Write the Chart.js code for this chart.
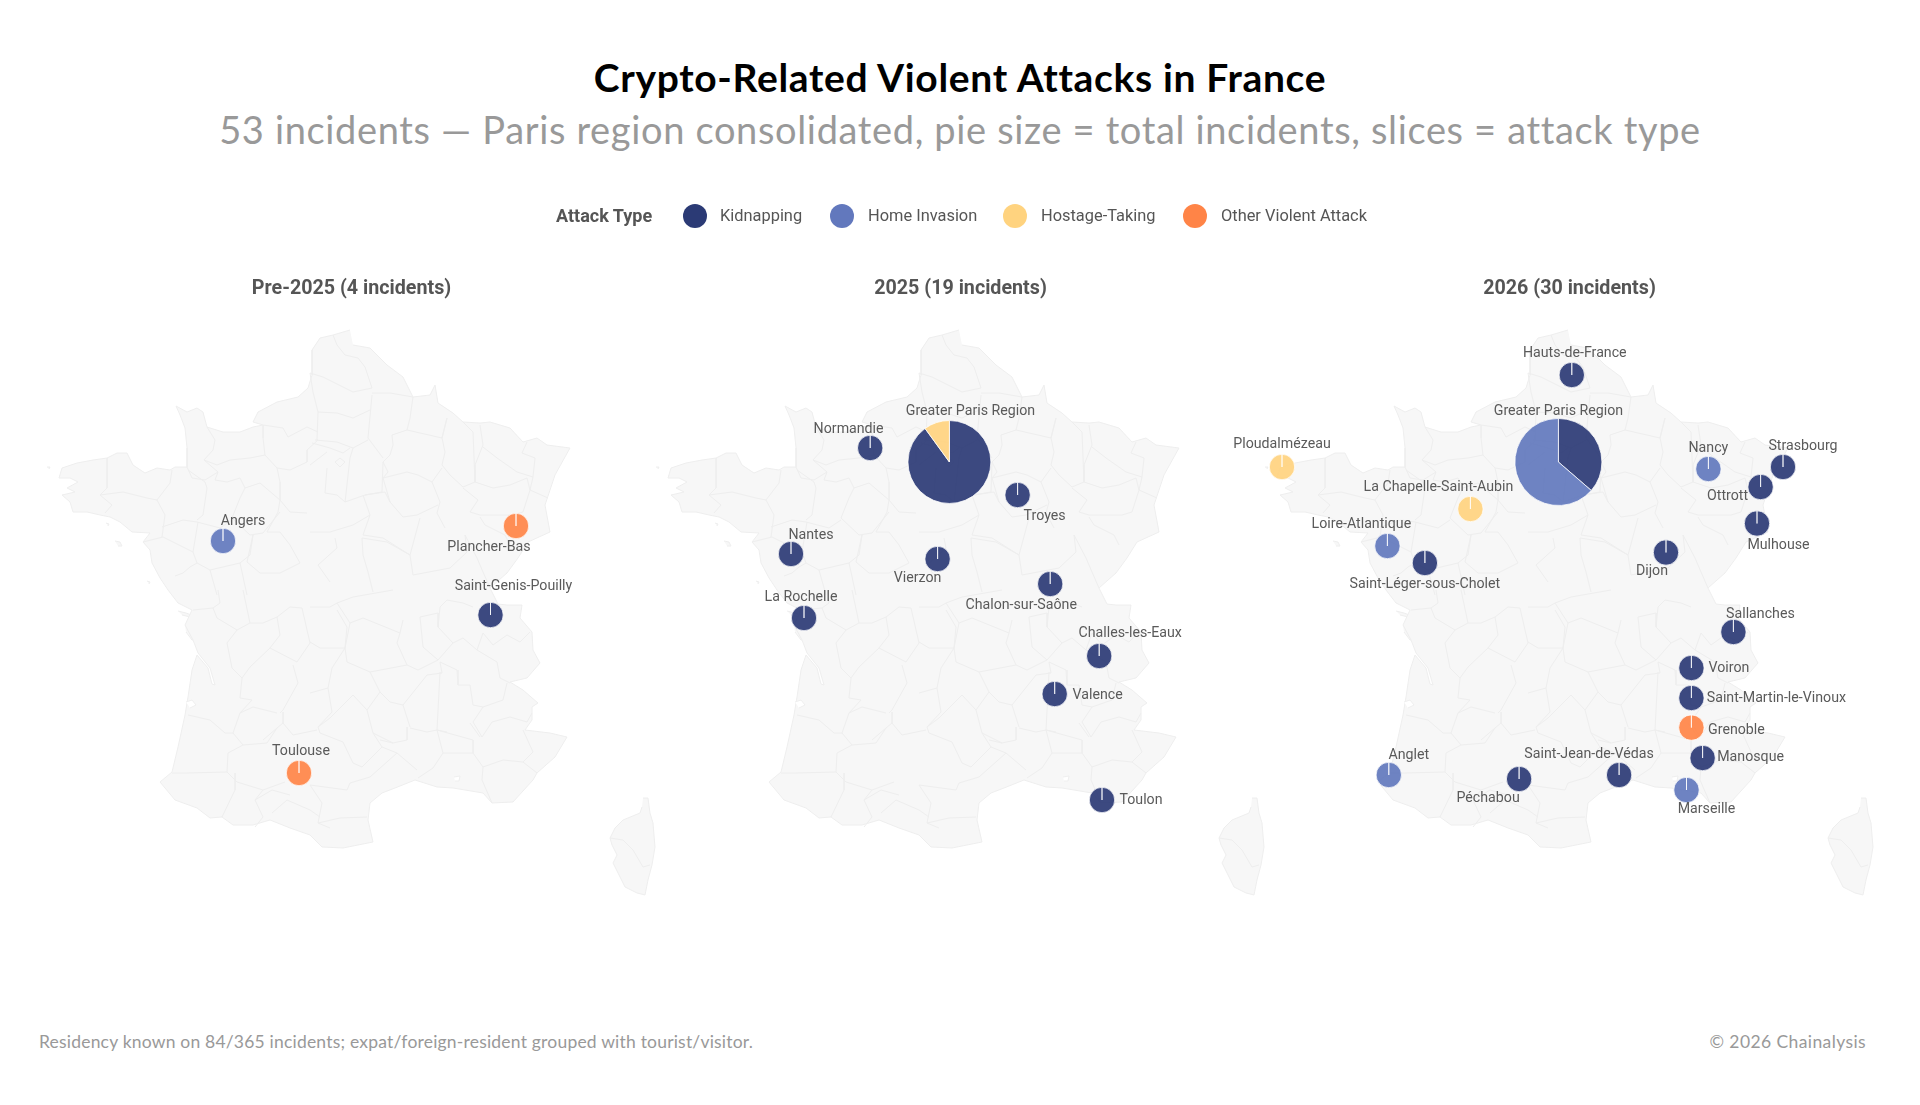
<!DOCTYPE html>
<html>
<head>
<meta charset="utf-8">
<title>Crypto-Related Violent Attacks in France</title>
<script src="https://cdn.jsdelivr.net/npm/chart.js@4"></script>
<style>
  html, body { margin: 0; padding: 0; background: #fff; }
  body { position: relative; width: 1920px; height: 1105px; overflow: hidden; font-family: Lato, sans-serif; }
  .abs { position: absolute; white-space: nowrap; }
  #title { left: 0; width: 1920px; top: 53px; text-align: center; font-size: 39px; line-height: 48px; font-weight: 700; color: #000; letter-spacing: 0.67px; }
  #subtitle { left: 0; width: 1920px; top: 105px; text-align: center; font-size: 38px; line-height: 48px; color: #999; letter-spacing: 0.65px; }
  .leg { top: 205px; font: 16.4px/22px Roboto, sans-serif; color: #555; filter: blur(0.4px); }
  .leg.head { font-weight: 700; font-size: 18px; }
  .dot { top: 204px; width: 24px; height: 24px; border-radius: 50%; filter: blur(0.4px); }
  canvas { position: absolute; top: 275px; filter: blur(0.4px); }
  #foot, #copy { top: 1031px; font-size: 17.5px; line-height: 22px; color: #999; letter-spacing: 0.2px; }
  #foot { left: 39px; }
  #copy { right: 54px; letter-spacing: 0.4px; }
</style>
</head>
<body>
<div class="abs" id="title">Crypto-Related Violent Attacks in France</div>
<div class="abs" id="subtitle">53 incidents — Paris region consolidated, pie size = total incidents, slices = attack type</div>

<div class="abs leg head" style="left:556px">Attack Type</div>
<div class="abs dot" style="left:683px;background:#2b3a75"></div>
<div class="abs leg" style="left:720px">Kidnapping</div>
<div class="abs dot" style="left:830px;background:#6278bd"></div>
<div class="abs leg" style="left:868px">Home Invasion</div>
<div class="abs dot" style="left:1003px;background:#ffd37f"></div>
<div class="abs leg" style="left:1041px">Hostage-Taking</div>
<div class="abs dot" style="left:1183px;background:#ff8447"></div>
<div class="abs leg" style="left:1221px">Other Violent Attack</div>

<canvas id="panel0" width="729" height="645" style="left:-13px;width:729px;height:645px"></canvas>
<canvas id="panel1" width="729" height="645" style="left:596px;width:729px;height:645px"></canvas>
<canvas id="panel2" width="729" height="645" style="left:1205px;width:729px;height:645px"></canvas>

<div class="abs" id="foot">Residency known on 84/365 incidents; expat/foreign-resident grouped with tourist/visitor.</div>
<div class="abs" id="copy">© 2026 Chainalysis</div>

<script>
const attackTypes = ["Kidnapping", "Home Invasion", "Hostage-Taking", "Other Violent Attack"];
const attackColors = ["#2b3a75", "#6278bd", "#ffd37f", "#ff8447"];

// slices are [kidnapping, home invasion, hostage-taking, other]
const preNames = ["Angers", "Plancher-Bas", "Saint-Genis-Pouilly", "Toulouse"];
const preX = [223, 516, 490.5, 299];
const preY = [541, 526, 615, 773];
const preSlices = [[0,1,0,0], [0,0,0,1], [1,0,0,0], [0,0,0,1]];
const preLabelOffset = [[20,-19.5], [-27,21.5], [23,-28.5], [2,-21.5]];

const y25Names = ["Greater Paris Region", "Normandie", "Troyes", "Nantes", "Vierzon", "La Rochelle", "Chalon-sur-Saône", "Challes-les-Eaux", "Valence", "Toulon"];
const y25X = [340.4, 261.2, 408.6, 182, 328.6, 195, 441.2, 490.2, 445.7, 493];
const y25Y = [462, 448, 495, 554, 559, 618, 584, 656, 694, 800];
const y25Slices = [[9,0,1,0], [1,0,0,0], [1,0,0,0], [1,0,0,0], [1,0,0,0], [1,0,0,0], [1,0,0,0], [1,0,0,0], [1,0,0,0], [1,0,0,0]];
const y25LabelOffset = [[21,-50.5], [-21.6,-18.5], [27,21.5], [20,-18.5], [-20,19.5], [-3,-20.5], [-29,21.5], [31,-22.5], [43,1.5], [39,0.5]];

const y26Names = ["Hauts-de-France", "Greater Paris Region", "Ploudalmézeau", "La Chapelle-Saint-Aubin", "Loire-Atlantique", "Saint-Léger-sous-Cholet", "Nancy", "Strasbourg", "Ottrott", "Mulhouse", "Dijon", "Sallanches", "Voiron", "Saint-Martin-le-Vinoux", "Grenoble", "Manosque", "Marseille", "Anglet", "Péchabou", "Saint-Jean-de-Védas"];
const y26X = [353.8, 340.4, 64, 252.4, 169.4, 206.9, 490.4, 565, 542.6, 539, 448, 515.4, 473.4, 473.4, 473.4, 484.6, 468.5, 170.8, 301.1, 401.1];
const y26Y = [375, 462, 467, 509, 546, 563, 469, 467, 487, 523.5, 552.5, 632, 668, 698, 727.6, 758, 790, 775, 779, 775];
const y26Slices = [[1,0,0,0], [4,7,0,0], [0,0,1,0], [0,0,1,0], [0,1,0,0], [1,0,0,0], [0,1,0,0], [1,0,0,0], [1,0,0,0], [1,0,0,0], [1,0,0,0], [1,0,0,0], [1,0,0,0], [1,0,0,0], [0,0,0,1], [1,0,0,0], [0,1,0,0], [0,1,0,0], [1,0,0,0], [1,0,0,0]];
const y26LabelOffset = [[3,-21.5], [0,-50.5], [0,-22.5], [-32,-21.5], [-26,-21.5], [0,21.5], [0,-20.5], [20,-21], [-33,9.5], [21.5,21.5], [-14,19], [27,-17.5], [37.5,0.5], [85,0.5], [45,2.5], [48,-0.5], [20,19.5], [20,-19.5], [-31,19.5], [-30,-20.5]];

const panelTitles = ["Pre-2025 (4 incidents)", "2025 (19 incidents)", "2026 (30 incidents)"];

// map, in map units
const franceOutline = [
  [350,330],[333,335],[320,338],[312,350],[312,375],[308,388],[298,397],[277,402],[258,412],[253,422],[263,425],[253,427],[240,432],[223,432],[207,427],[203,412],[197,408],[187,412],[176,406],[180,415],[185,428],[187,448],[187,467],[175,467],[170,470],[157,468],[145,473],[133,465],[127,453],[117,453],[107,458],[93,460],[77,463],[62,468],[59,478],[70,478],[78,482],[67,488],[75,492],[62,495],[70,502],[73,512],[87,512],[100,515],[110,517],[120,522],[132,532],[150,533],[143,542],[150,550],[152,563],[160,578],[168,590],[178,603],[192,610],[185,625],[193,640],[198,653],[210,668],[215,685],[212,684],[208,668],[197,655],[192,670],[188,697],[185,715],[178,747],[172,772],[160,782],[175,800],[197,808],[210,818],[222,817],[233,825],[253,825],[270,820],[290,828],[310,835],[322,847],[343,848],[373,842],[368,820],[370,803],[382,793],[395,788],[415,780],[437,787],[453,788],[483,793],[492,803],[513,802],[533,780],[537,773],[555,757],[567,737],[550,733],[525,730],[532,720],[532,707],[538,703],[523,690],[510,682],[527,678],[540,663],[533,650],[532,632],[520,618],[522,605],[507,605],[498,604],[490,588],[507,573],[518,558],[528,542],[550,532],[545,505],[555,475],[570,448],[547,445],[537,438],[523,442],[510,428],[490,422],[480,423],[463,422],[453,413],[438,403],[435,385],[430,395],[413,397],[403,377],[387,365],[370,348],[353,345]
];
const corsicaOutline = [
  [643,798],[648,798],[650,813],[653,823],[655,847],[652,865],[648,880],[645,895],[637,893],[625,887],[618,873],[613,863],[617,855],[612,845],[610,838],[615,828],[623,820],[640,813],[642,807]
];
const islands = [
  [[178,611],[186,613],[194,616],[190,617],[182,615]],
  [[185,625],[190,628],[196,640],[192,640],[186,632]],
  [[115,541],[120,542],[122,546],[118,546]],
  [[106,523],[109,524],[108,526]],
  [[147,581],[150,582],[149,584]],
  [[47,467],[50,467],[49,469]]
];
const waterHoles = [
  [[186,702],[192,700],[196,705],[190,708]],
  [[454,777],[460,776],[459,781],[455,781]]
];
const departmentLines = [
  [[207,427],[215,440],[213,450],[204,460],[218,472]],
  [[187,467],[192,478],[205,480],[218,472]],
  [[204,460],[217,465],[230,460],[250,458],[265,455]],
  [[263,425],[263,438],[265,455]],
  [[218,472],[215,480],[227,482],[240,478],[245,488],[260,483],[280,500]],
  [[265,455],[277,468],[280,482],[280,500]],
  [[263,425],[283,428],[288,437],[307,427],[318,432]],
  [[318,440],[307,450],[307,462],[290,470],[277,468]],
  [[107,458],[107,488],[100,495],[112,505],[105,513]],
  [[172,470],[170,483],[157,500],[147,498],[123,492],[100,495]],
  [[157,500],[165,515],[162,537]],
  [[188,470],[205,482],[207,488],[203,515],[197,520]],
  [[162,527],[183,520],[197,522]],
  [[245,488],[240,498],[232,518],[250,535]],
  [[197,522],[220,528],[232,520]],
  [[250,535],[263,533],[280,512]],
  [[280,500],[278,512],[267,532]],
  [[143,542],[163,537],[193,552]],
  [[198,522],[193,552],[197,563],[210,570],[240,563],[250,555],[253,535]],
  [[197,563],[190,567],[183,573],[175,576]],
  [[210,570],[217,595]],
  [[240,563],[247,595]],
  [[253,535],[247,562],[260,573],[280,573],[300,563],[290,545],[280,532],[267,532]],
  [[280,500],[290,512],[307,513]],
  [[333,335],[337,345],[345,355],[358,358],[365,367],[372,388]],
  [[310,373],[323,377],[343,387],[353,392],[372,388]],
  [[372,395],[368,438],[383,458]],
  [[372,393],[390,393],[413,397]],
  [[407,430],[410,418],[413,397]],
  [[392,435],[407,430],[442,438],[447,418]],
  [[392,435],[393,445],[390,455],[383,462]],
  [[383,478],[407,472],[418,475],[432,482],[442,468]],
  [[383,462],[388,472],[383,478]],
  [[447,418],[442,438],[445,452],[442,465],[450,475],[463,487],[475,482],[473,432],[463,422]],
  [[480,425],[483,445],[475,465],[475,482],[493,488],[510,485],[527,478]],
  [[483,447],[497,458],[517,472],[533,477],[535,458],[522,453],[527,442]],
  [[533,477],[530,490],[548,498]],
  [[527,478],[530,490],[523,512],[513,515]],
  [[463,488],[478,500],[470,512],[480,515],[513,515]],
  [[432,482],[440,502],[437,513],[445,528]],
  [[383,478],[390,502],[403,517],[417,515],[438,505]],
  [[365,495],[385,492],[390,502]],
  [[363,495],[370,515],[363,535]],
  [[363,535],[383,538],[410,555],[420,518]],
  [[318,412],[337,413],[353,418],[370,410]],
  [[315,440],[337,442],[353,448],[368,440]],
  [[318,412],[317,440]],
  [[310,373],[313,392],[318,412]],
  [[353,448],[350,458],[345,502],[365,495],[382,492],[383,462]],
  [[335,462],[340,458],[345,462],[340,467],[335,462]],
  [[312,443],[330,448],[343,453],[350,448]],
  [[327,468],[325,493],[337,495],[345,502]],
  [[310,465],[327,452]],
  [[310,532],[330,532],[353,525],[370,515]],
  [[362,538],[363,555],[368,572],[373,592]],
  [[410,555],[413,575],[450,568],[467,552],[465,535]],
  [[465,535],[477,558],[483,572],[490,588]],
  [[480,517],[485,525],[505,535],[510,545]],
  [[362,538],[387,542],[410,555]],
  [[335,538],[337,548],[318,565],[330,582]],
  [[440,607],[438,627],[453,643],[463,638],[477,650],[483,633]],
  [[440,607],[447,600],[463,603],[473,607]],
  [[337,603],[350,623],[363,618],[400,633],[403,620]],
  [[337,603],[353,597],[393,590]],
  [[420,617],[423,647],[438,660],[453,643]],
  [[420,617],[438,613],[438,627]],
  [[400,633],[397,643],[407,665],[418,670],[438,660]],
  [[345,648],[347,662],[370,672],[407,665]],
  [[345,648],[350,623]],
  [[440,662],[442,673],[427,675],[403,705]],
  [[370,672],[380,692],[390,702],[403,705]],
  [[440,662],[457,670],[458,685],[470,685],[473,705],[483,707]],
  [[477,650],[497,662],[500,678],[510,683]],
  [[483,707],[503,700],[507,683]],
  [[483,633],[493,645],[507,635],[520,642],[530,632]],
  [[483,707],[473,722],[482,737],[492,722],[510,717],[527,722],[532,713]],
  [[523,730],[533,752],[523,762],[537,773]],
  [[440,672],[437,730],[447,732]],
  [[470,723],[480,737]],
  [[437,730],[443,753],[473,753],[483,767]],
  [[473,740],[473,753]],
  [[437,730],[473,740]],
  [[483,767],[482,780],[492,803]],
  [[483,767],[503,760],[523,762]],
  [[443,753],[433,768],[418,778]],
  [[407,727],[407,740],[393,743],[380,740]],
  [[410,728],[427,732],[437,730]],
  [[403,705],[410,727]],
  [[367,710],[373,733],[393,743]],
  [[367,710],[380,692]],
  [[353,695],[367,710]],
  [[353,695],[330,718],[318,727],[320,733],[343,742],[353,763],[362,767]],
  [[362,767],[382,747],[373,733]],
  [[382,747],[397,753],[417,770]],
  [[350,783],[370,777],[397,753]],
  [[318,823],[340,818],[367,817]],
  [[350,783],[347,790],[310,785]],
  [[310,785],[322,803],[318,823],[330,828]],
  [[345,648],[332,668],[328,688],[332,712],[318,727]],
  [[310,642],[320,648],[345,648]],
  [[310,693],[328,688]],
  [[310,607],[330,607],[337,603]],
  [[345,648],[347,627],[337,610]],
  [[193,610],[213,608],[220,603],[218,590]],
  [[213,608],[217,618],[237,630],[227,643],[232,668],[242,678]],
  [[237,630],[250,623],[263,623],[277,617],[280,635],[270,648],[250,667],[242,678]],
  [[243,590],[250,623]],
  [[277,617],[290,607],[302,608]],
  [[302,608],[310,643]],
  [[270,648],[297,662],[310,643]],
  [[242,678],[240,698],[252,700],[240,713],[253,707],[277,713]],
  [[293,665],[298,683],[283,710],[280,713]],
  [[283,723],[293,735],[317,730]],
  [[283,712],[283,723],[277,728],[263,740]],
  [[240,713],[233,733],[243,745]],
  [[243,745],[267,743],[277,728]],
  [[188,715],[210,720],[225,733],[233,733]],
  [[243,745],[228,753],[227,772]],
  [[227,772],[237,782],[263,790],[285,782]],
  [[172,773],[187,773],[227,772]],
  [[235,773],[235,790],[222,817]],
  [[263,790],[255,800],[263,817],[255,827]],
  [[272,813],[287,800],[310,810],[320,817]],
  [[255,800],[272,790],[290,795]],
  [[610,838],[623,840],[633,850],[643,867],[650,865]]
];

const toPoints = pts => pts.map(p => ({ x: p[0], y: p[1] }));

function pieRadius(total) {
  return 12.7 + (Math.sqrt(total) - 1) * 13.3;
}

const piesPlugin = {
  id: "pies",
  afterDatasetsDraw(chart, args, opts) {
    const { ctx, scales } = chart;
    ctx.save();
    opts.x.forEach((vx, i) => {
      const cx = scales.x.getPixelForValue(vx);
      const cy = scales.y.getPixelForValue(opts.y[i]);
      const slices = opts.slices[i];
      const total = slices.reduce((a, b) => a + b, 0);
      const r = pieRadius(total);
      let start = -Math.PI / 2;
      slices.forEach((v, k) => {
        if (!v) return;
        const end = start + (v / total) * Math.PI * 2;
        ctx.beginPath();
        ctx.moveTo(cx, cy);
        ctx.arc(cx, cy, r, start, end);
        ctx.closePath();
        ctx.globalAlpha = 0.92;
        ctx.fillStyle = attackColors[k];
        ctx.fill();
        ctx.globalAlpha = 0.75;
        ctx.strokeStyle = "#fff";
        ctx.lineWidth = 1;
        ctx.stroke();
        start = end;
      });
    });
    ctx.globalAlpha = 1;
    ctx.font = "14.2px Roboto, sans-serif";
    ctx.fillStyle = "#5a5a5a";
    ctx.textAlign = "center";
    ctx.textBaseline = "middle";
    opts.names.forEach((name, i) => {
      const off = opts.labelOffset[i];
      ctx.fillText(name, scales.x.getPixelForValue(opts.x[i]) + off[0], scales.y.getPixelForValue(opts.y[i]) + off[1]);
    });
    ctx.restore();
  }
};

function mapDatasets() {
  const fillArea = (pts, color, order) => ({
    type: "line", data: toPoints(pts), fill: "shape", backgroundColor: color,
    borderColor: color === "#fff" ? "#efefef" : "#eeeeee", borderWidth: 1, pointRadius: 0, tension: 0, order
  });
  const ds = [fillArea(franceOutline, "#f7f7f7", 5), fillArea(corsicaOutline, "#f7f7f7", 5)];
  islands.forEach(p => ds.push(fillArea(p, "#f7f7f7", 5)));
  departmentLines.forEach(p => ds.push({
    type: "line", data: toPoints(p), fill: false, borderColor: "#eeeeee", borderWidth: 1, pointRadius: 0, tension: 0, order: 4
  }));
  waterHoles.forEach(p => ds.push(fillArea(p, "#fff", 3)));
  return ds;
}

function buildPanel(id, title, names, xs, ys, slices, labelOffset) {
  return new Chart(document.getElementById(id), {
    type: "scatter",
    data: { datasets: mapDatasets() },
    plugins: [piesPlugin],
    options: {
      responsive: false,
      animation: false,
      events: [],
      // side padding lets labels run past the map into the next panel
      layout: { padding: { left: 60, right: 60 } },
      scales: {
        x: { type: "linear", min: 47, max: 656, display: false },
        y: { type: "linear", min: 315, max: 920, reverse: true, display: false }
      },
      plugins: {
        legend: { display: false },
        tooltip: { enabled: false },
        title: {
          display: true,
          text: title,
          color: "#555",
          font: { family: "Roboto, sans-serif", size: 19.7, weight: "bold", lineHeight: 1.2 },
          padding: { top: 2, bottom: 14.36 }
        },
        pies: { x: xs, y: ys, slices, names, labelOffset }
      }
    }
  });
}

buildPanel("panel0", panelTitles[0], preNames, preX, preY, preSlices, preLabelOffset);
buildPanel("panel1", panelTitles[1], y25Names, y25X, y25Y, y25Slices, y25LabelOffset);
buildPanel("panel2", panelTitles[2], y26Names, y26X, y26Y, y26Slices, y26LabelOffset);
</script>
</body>
</html>
